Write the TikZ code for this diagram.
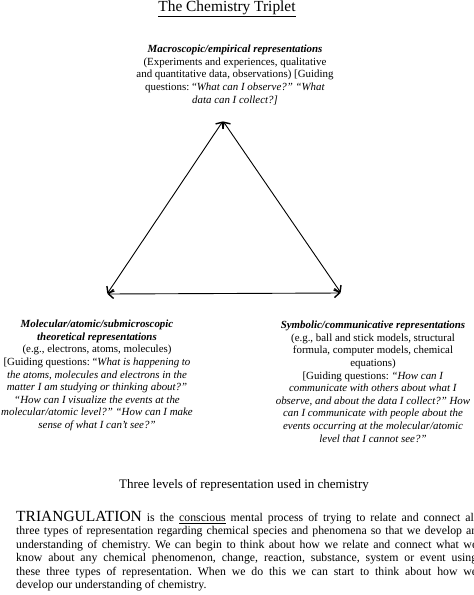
\documentclass[tikz,border=0pt]{standalone}
\usepackage{fontspec}
\setmainfont{Liberation Serif}
\usetikzlibrary{arrows.meta}
\frenchspacing
\begin{document}
\begin{tikzpicture}[x=1pt,y=-1pt,
  blk/.style={align=center,font=\fontsize{10.9}{12.6}\selectfont,inner sep=0pt},
  edge/.style={line width=0.9pt,{Straight Barb[length=5pt,width=9pt,line width=1.4pt]}-{Straight Barb[length=5pt,width=9pt,line width=1.4pt]},shorten <=0.5pt,shorten >=0.5pt}]
\useasboundingbox (0,0) rectangle (474,595);
\clip (0,0) rectangle (474,595);
\fill[white] (0,0) rectangle (474,595);
\node[inner sep=0pt,font=\fontsize{15.4}{17}\selectfont] (title) at (227,9) {\underline{The Chemistry Triplet}};
\node[blk,anchor=north] (macro) at (235,45) {\textbf{\textit{Macroscopic/empirical representations}}\\
(Experiments and experiences, qualitative\\
and quantitative data, observations) {[}Guiding\\
questions: “\textit{What can I observe?” “What}\\
\textit{data can I collect?]}};
\node[blk,anchor=north] (molec) at (97,320) {\textbf{\textit{Molecular/atomic/submicroscopic}}\\
\textbf{\textit{theoretical representations}}\\
(e.g., electrons, atoms, molecules)\\
{[}Guiding questions: “\textit{What is happening to}\\
\textit{the atoms, molecules and electrons in the}\\
\textit{matter I am studying or thinking about?”}\\
\textit{“How can I visualize the events at the}\\
\textit{molecular/atomic level?” “How can I make}\\
\textit{sense of what I can’t see?”}};
\node[blk,anchor=north] (symb) at (373,321) {\textbf{\textit{Symbolic/communicative representations}}\\
(e.g., ball and stick models, structural\\
formula, computer models, chemical\\
equations)\\
{[}Guiding questions: \textit{“How can I}\\
\textit{communicate with others about what I}\\
\textit{observe, and about the data I collect?” How}\\
\textit{can I communicate with people about the}\\
\textit{events occurring at the molecular/atomic}\\
\textit{level that I cannot see?”}};
\coordinate (T) at (223,121);
\coordinate (L) at (107,294);
\coordinate (R) at (341,293);
\draw[edge] (L) -- (T);
\draw[edge] (R) -- (T);
\draw[edge] (L) -- (R);
\node[inner sep=0pt,font=\fontsize{13}{15}\selectfont] (cap) at (244,485) {Three levels of representation used in chemistry};
\node[inner sep=0pt,anchor=north west,text width=461pt,align=justify,font=\fontsize{11.8}{13.5}\selectfont] (para) at (16,511)
{{\fontsize{15.5}{13.5}\selectfont TRIANGULATION} is the \underline{conscious} mental process of trying to relate and connect all\linebreak
three types of representation regarding chemical species and phenomena so that we develop an\linebreak
understanding of chemistry. We can begin to think about how we relate and connect what we\linebreak
know about any chemical phenomenon, change, reaction, substance, system or event using\linebreak
these three types of representation. When we do this we can start to think about how we\linebreak
develop our understanding of chemistry.};
\end{tikzpicture}
\end{document}
